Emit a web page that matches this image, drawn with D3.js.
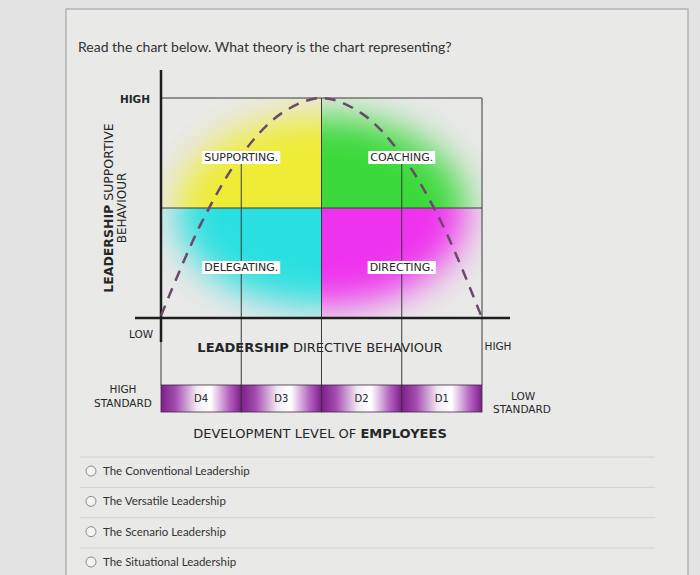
<!DOCTYPE html>
<html>
<head>
<meta charset="utf-8">
<script src="https://cdn.jsdelivr.net/npm/d3@7"></script>
<style>
  html, body { margin: 0; padding: 0; background: #e3e3e3; }
  svg { display: block; }
</style>
</head>
<body>
<svg id="chart" width="700" height="575"></svg>
<script>
// question text and answer choices
const question = "Read the chart below. What theory is the chart representing?";
const answers = [
    "The Conventional Leadership",
    "The Versatile Leadership",
    "The Scenario Leadership",
    "The Situational Leadership"
];

// quadrants: top-left, top-right, bottom-left, bottom-right
const styleNames = ["SUPPORTING.", "COACHING.", "DELEGATING.", "DIRECTING."];
const devLevels = ["D4", "D3", "D2", "D1"];

// dashed curve (directive 0-4, supportive 0-2)
const curveX = [0, 0.5, 1, 1.5, 2, 2.5, 3, 3.5, 4];
const curveY = [0.02, 0.86, 1.48, 1.86, 2.0, 1.86, 1.48, 0.86, 0.0];

const quadColors = ["#eeec34", "#3bd93b", "#2adfe0", "#ee33ee"];
const ink = "#262626";
const chartFont = "'DejaVu Sans', sans-serif";

const svg = d3.select('#chart');

// page background and question panel
svg.append('rect').attr('x', 0).attr('y', 0).attr('width', 700).attr('height', 575).attr('fill', '#e3e3e3');
svg.append('rect')
    .attr('x', 66).attr('y', 9).attr('width', 622).attr('height', 580)
    .attr('fill', '#e9e9e8').attr('stroke', '#9a9a9a').attr('stroke-width', 1);

svg.append('text')
    .attr('x', 78).attr('y', 52)
    .attr('font-family', 'Lato, sans-serif').attr('font-size', 14)
    .attr('fill', '#333')
    .text(question);

// scales
const x = d3.scaleLinear().domain([0, 4]).range([161, 482]);
const y = d3.scaleLinear().domain([0, 2]).range([318, 98]);
const barTop = 385, barBottom = 412;

const defs = svg.append('defs');

// soft edged ellipse used as a mask for the coloured quadrants
const blur = defs.append('filter').attr('id', 'soft')
    .attr('x', '-50%').attr('y', '-50%').attr('width', '200%').attr('height', '200%');
blur.append('feGaussianBlur').attr('stdDeviation', 18);

const mask = defs.append('mask').attr('id', 'blob')
    .attr('maskUnits', 'userSpaceOnUse')
    .attr('x', 0).attr('y', 0).attr('width', 700).attr('height', 575);
mask.append('rect').attr('width', 700).attr('height', 575).attr('fill', 'black');
mask.append('ellipse')
    .attr('cx', x(2)).attr('cy', y(1) + 3)
    .attr('rx', 145).attr('ry', 95)
    .attr('fill', 'white')
    .attr('filter', 'url(#soft)');

// gradient for the development level bar
const grad = defs.append('linearGradient').attr('id', 'dev');
[[0, '#7d1f8b'], [0.18, '#a34db0'], [0.45, '#f3ebf4'], [0.62, '#ffffff'], [0.85, '#b462c0'], [1, '#7d1f8b']]
    .forEach(s => grad.append('stop').attr('offset', s[0]).attr('stop-color', s[1]));

// coloured quadrants
svg.append('g').attr('mask', 'url(#blob)')
    .selectAll('rect')
    .data(styleNames)
    .enter()
    .append('rect')
    .attr('x', (d, i) => x((i % 2) * 2))
    .attr('y', (d, i) => y(2 - Math.floor(i / 2)))
    .attr('width', x(2) - x(0))
    .attr('height', y(1) - y(2))
    .attr('fill', (d, i) => quadColors[i]);

// grid lines
const grid = svg.append('g').attr('stroke', '#3a3a3a').attr('stroke-width', 1).attr('fill', 'none');
grid.append('line').attr('x1', x(0)).attr('x2', x(4)).attr('y1', y(2)).attr('y2', y(2));
grid.append('line').attr('x1', x(0)).attr('x2', x(4)).attr('y1', y(1)).attr('y2', y(1));
grid.append('line').attr('x1', x(2)).attr('x2', x(2)).attr('y1', y(2)).attr('y2', barTop);
grid.append('line').attr('x1', x(4)).attr('x2', x(4)).attr('y1', y(2)).attr('y2', barTop);
grid.append('line').attr('x1', x(1)).attr('x2', x(1)).attr('y1', 160).attr('y2', barTop);
grid.append('line').attr('x1', x(3)).attr('x2', x(3)).attr('y1', 160).attr('y2', barTop);
grid.append('line').attr('x1', x(0)).attr('x2', x(0)).attr('y1', 340).attr('y2', barTop);

// main axes
svg.append('line').attr('x1', x(0)).attr('x2', x(0)).attr('y1', 70).attr('y2', 342)
    .attr('stroke', '#1e1e1e').attr('stroke-width', 2.5);
svg.append('line').attr('x1', 135).attr('x2', 510).attr('y1', y(0)).attr('y2', y(0))
    .attr('stroke', '#1e1e1e').attr('stroke-width', 2.5);

// dashed curve
const pts = curveX.map((v, i) => ({x: v, y: curveY[i]}));
const line = d3.line()
    .x(d => x(d.x))
    .y(d => y(d.y))
    .curve(d3.curveCatmullRom);
svg.append('path')
    .datum(pts)
    .attr('d', line)
    .attr('fill', 'none')
    .attr('stroke', '#6b4869')
    .attr('stroke-width', 2.5)
    .attr('stroke-dasharray', '11 8');

// quadrant labels on white boxes
const labels = svg.append('g');
styleNames.forEach((name, i) => {
    const cx = x((i % 2) * 2 + 1);
    const cy = i < 2 ? 161 : 271;
    const g = labels.append('g');
    const t = g.append('text')
        .attr('x', cx).attr('y', cy)
        .attr('text-anchor', 'middle')
        .attr('font-family', chartFont).attr('font-size', 11)
        .attr('fill', ink)
        .text(name);
    const b = t.node().getBBox();
    g.insert('rect', 'text')
        .attr('x', b.x - 2).attr('y', b.y)
        .attr('width', b.width + 4).attr('height', b.height)
        .attr('fill', 'white');
});

// development level bar
const bar = svg.append('g');
bar.selectAll('rect')
    .data(devLevels)
    .enter()
    .append('rect')
    .attr('x', (d, i) => x(i))
    .attr('y', barTop)
    .attr('width', x(1) - x(0))
    .attr('height', barBottom - barTop)
    .attr('fill', 'url(#dev)')
    .attr('stroke', '#3a2a3a').attr('stroke-width', 0.8);
bar.selectAll('text')
    .data(devLevels)
    .enter()
    .append('text')
    .attr('x', (d, i) => x(i + 0.5))
    .attr('y', barTop + 17)
    .attr('text-anchor', 'middle')
    .attr('font-family', chartFont).attr('font-size', 10)
    .attr('fill', ink)
    .text(d => d);

// axis texts
const txt = (px, py, s, opts = {}) => svg.append('text')
    .attr('x', px).attr('y', py)
    .attr('text-anchor', opts.anchor || 'middle')
    .attr('font-family', chartFont)
    .attr('font-size', opts.size || 11)
    .attr('font-weight', opts.weight || 'normal')
    .attr('fill', ink)
    .text(s);

txt(150, 103, 'HIGH', {anchor: 'end', size: 10.5, weight: 'bold'});
txt(141, 338, 'LOW', {size: 10.5});
txt(498, 350, 'HIGH', {size: 10.5});
txt(123, 393, 'HIGH', {size: 10.5});
txt(123, 407, 'STANDARD', {size: 10.5});
txt(523, 400, 'LOW', {size: 10.5});
txt(522, 413, 'STANDARD', {size: 10.5});

const xTitle = txt(320, 352, '', {size: 13});
xTitle.append('tspan').attr('font-weight', 'bold').text('LEADERSHIP');
xTitle.append('tspan').text(' DIRECTIVE BEHAVIOUR');

const devTitle = txt(320, 438, '', {size: 13});
devTitle.append('tspan').text('DEVELOPMENT LEVEL OF ');
devTitle.append('tspan').attr('font-weight', 'bold').text('EMPLOYEES');

const yTitle = svg.append('text')
    .attr('transform', 'translate(113,208) rotate(-90)')
    .attr('text-anchor', 'middle')
    .attr('font-family', chartFont).attr('font-size', 12.5)
    .attr('fill', ink);
yTitle.append('tspan').attr('font-weight', 'bold').text('LEADERSHIP');
yTitle.append('tspan').text(' SUPPORTIVE');
svg.append('text')
    .attr('transform', 'translate(126,208) rotate(-90)')
    .attr('text-anchor', 'middle')
    .attr('font-family', chartFont).attr('font-size', 12)
    .attr('fill', ink)
    .text('BEHAVIOUR');

// answer choices
const rowY = d3.scaleLinear().domain([0, 3]).range([473, 564]);
svg.append('g').selectAll('line')
    .data(answers)
    .enter()
    .append('line')
    .attr('x1', 80).attr('x2', 655)
    .attr('y1', (d, i) => rowY(i) - 16).attr('y2', (d, i) => rowY(i) - 16)
    .attr('stroke', '#d2d2d2').attr('stroke-width', 1);

const opt = svg.append('g').selectAll('g')
    .data(answers)
    .enter()
    .append('g');
opt.append('circle')
    .attr('cx', 91).attr('cy', (d, i) => rowY(i) - 2)
    .attr('r', 5)
    .attr('fill', '#f4f4f4').attr('stroke', '#8a8a8a').attr('stroke-width', 1);
opt.append('text')
    .attr('x', 103).attr('y', (d, i) => rowY(i) + 2)
    .attr('font-family', 'Lato, sans-serif').attr('font-size', 11.5)
    .attr('fill', '#333')
    .text(d => d);
</script>
</body>
</html>
